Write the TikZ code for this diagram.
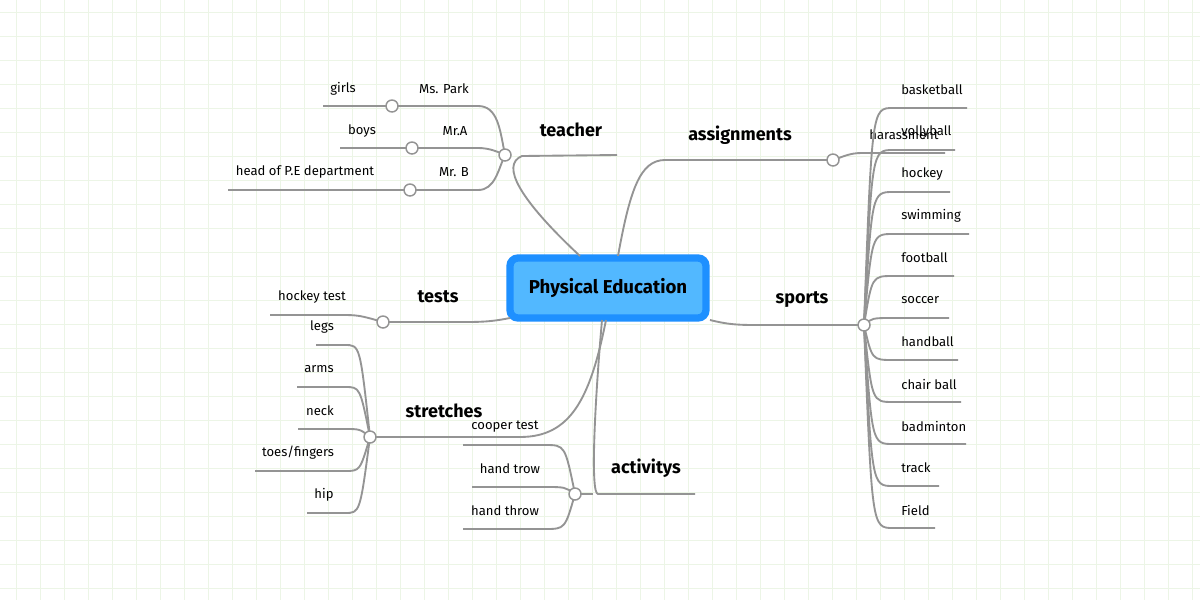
\documentclass[tikz,border=0pt]{standalone}
\usepackage{fontspec}
\setmainfont{Fira Sans}
\begin{document}
\begin{tikzpicture}[x=0.75pt,y=-0.75pt,
  ln/.style={draw=black!42,line width=1.4pt},
  hubc/.style={circle,draw=black!42,line width=1.1pt,fill=white,minimum size=9pt,inner sep=0pt},
  leaf/.style={font=\fontsize{9.8}{11}\selectfont,inner sep=0pt},
  topic/.style={font=\fontsize{13.5}{15}\selectfont\bfseries,inner sep=0pt}]
\fill[white] (0,0) rectangle (1200,600);
\useasboundingbox (0,0) rectangle (1200,600);
\definecolor{gridc}{RGB}{236,245,230}
\foreach \x in {16,40,...,1200} \draw[gridc,line width=0.6pt] (\x,0) -- (\x,600);
\foreach \y in {12,36,...,600} \draw[gridc,line width=0.6pt] (0,\y) -- (1200,\y);
% center
\node[draw={rgb,255:red,30;green,144;blue,255},line width=5.5pt,fill={rgb,255:red,82;green,184;blue,255},rounded corners=6pt,minimum width=147pt,minimum height=45pt,font=\fontsize{14}{16}\selectfont\bfseries,text=black] (c) at (608,288) {Physical Education};
\coordinate (cT) at (580,256);
\coordinate (cA) at (618,256);
\coordinate (cS) at (710,320);
\coordinate (cTe) at (510,318);
\coordinate (cSt) at (606,320);
\coordinate (cAc) at (602,320);
% teacher
\coordinate (tEnd) at (617,155);
\node[topic] (tT) at (571,130) {teacher};
\draw[ln] (cT) .. controls (520,200) and (500,165) .. (522,156) -- (tEnd);
\coordinate (pk) at (478,106); \coordinate (ma) at (478,148); \coordinate (mb) at (478,190);
\draw[ln] (323,106) -- (pk) .. controls (498,106) and (500,130) .. (505,155);
\draw[ln] (340,148) -- (ma) .. controls (490,148) and (498,152) .. (505,155);
\draw[ln] (228,190) -- (mb) .. controls (495,190) and (498,170) .. (505,155);
\node[hubc] (th) at (505,155) {};
\node[hubc] (h1) at (392,106) {};
\node[hubc] (h2) at (412,148) {};
\node[hubc] (h3) at (410,190) {};
\node[leaf] (l1) at (444,89) {Ms. Park};
\node[leaf] (l2) at (343,89) {girls};
\node[leaf] (l3) at (455,131) {Mr.A};
\node[leaf] (l4) at (362,131) {boys};
\node[leaf] (l5) at (454,172) {Mr. B};
\node[leaf] (l6) at (305,172) {head of P.E department};
% assignments
\node[topic] (aT) at (740,135) {assignments};
\draw[ln] (cA) .. controls (630,190) and (640,160) .. (665,160) -- (833,160) .. controls (845,156) and (850,153) .. (862,153) -- (945,153);
\node[hubc] (ah) at (833,160) {};
\node[leaf] (har) at (904,135) {harassment};
% sports
\node[topic] (sT) at (802,300) {sports};
\draw[ln] (cS) .. controls (730,325) and (740,325) .. (760,325) -- (864,325);
\foreach \y/\e/\t in {108/967/basketball,150/955/vollyball,192/950/hockey,234/969/swimming,276/954/football,318/949/soccer,360/958/handball,402/961/chair ball,444/966/badminton,486/939/track,528/935/Field}{
  \draw[ln] (864,325) .. controls (872,\y) .. (893,\y) -- (\e,\y);
  \node[leaf,anchor=west] at (901,\y-18) {\t};
}
\node[hubc] (sh) at (864,325) {};
% tests
\node[topic] (teT) at (438,297) {tests};
\draw[ln] (cTe) .. controls (490,322) and (480,322) .. (460,322) -- (383,322) .. controls (365,317) and (360,315) .. (345,315) -- (270,315);
\node[hubc] (teh) at (383,322) {};
\node[leaf] (ht) at (312,297) {hockey test};
% stretches
\node[topic] (stT) at (444,411) {stretches};
\draw[ln] (cSt) .. controls (590,400) and (570,437) .. (520,437) -- (370,437);
\foreach \y/\s/\t/\tx in {345/316/legs/322,387/297/arms/319,429/298/neck/320,471/255/toes\slash fingers/298,513/307/hip/324}{
  \draw[ln] (370,437) .. controls (360,\y) .. (345,\y) -- (\s,\y);
  \node[leaf] at (\tx,\y-18) {\t};
}
\node[hubc] (sth) at (370,437) {};
% activitys
\node[topic] (acT) at (646,468) {activitys};
\draw[ln] (cAc) .. controls (595,400) and (590,494) .. (598,494) -- (695,494);
\draw[ln] (593,494) -- (575,494);
\foreach \y/\s/\t/\tx in {445/463/cooper test/505,487/472/hand trow/510,529/463/hand throw/505}{
  \draw[ln] (575,494) .. controls (565,\y) .. (545,\y) -- (\s,\y);
  \node[leaf] at (\tx,\y-18) {\t};
}
\node[hubc] (ach) at (575,494) {};
\end{tikzpicture}
\end{document}
